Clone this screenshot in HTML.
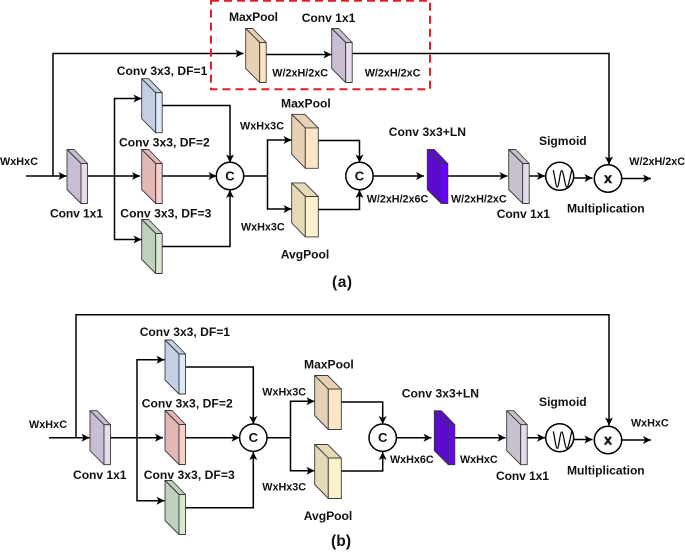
<!DOCTYPE html>
<html>
<head>
<meta charset="utf-8">
<style>
html,body{margin:0;padding:0;background:#fff;width:685px;height:552px;overflow:hidden}
svg{display:block;filter:blur(0.35px)}
text{font-family:"Liberation Sans",sans-serif;font-weight:bold;fill:#111}
.l{font-size:12.1px}
.s{font-size:10.8px}
.c{font-size:13px;text-anchor:middle}
.w{fill:none;stroke:#000;stroke-width:1.5}
.a{marker-end:url(#h)}
.o{fill:#fff;stroke:#000;stroke-width:1.5}
.si{fill:var(--a);stroke:#3a3a3a;stroke-width:.9;stroke-linejoin:round}
.fr{fill:var(--b);stroke:#3a3a3a;stroke-width:.9;stroke-linejoin:round}
</style>
</head>
<body>
<svg width="685" height="552" viewBox="0 0 685 552" xmlns="http://www.w3.org/2000/svg">
<defs>
<marker id="h" markerUnits="userSpaceOnUse" markerWidth="10" markerHeight="10" refX="8.5" refY="5" orient="auto" overflow="visible">
<path d="M0.5,1 L8.5,5 L0.5,9 L2.5,5 Z" fill="#000"/>
</marker>
<g id="n">
<polygon class="si" points="0,0 7,0 20.5,14 14,14"/>
<polygon class="si" points="0,0 14,14 14,54 0,40"/>
<polygon class="fr" points="14,14 20.5,14 20.5,54 14,54"/>
</g>
<g id="m">
<polygon class="si" points="0,0 13,0 26.6,13.6 13.6,13.6"/>
<polygon class="si" points="0,0 13.6,13.6 13.6,54 0,40"/>
<polygon class="fr" points="13.6,13.6 26.6,13.6 26.6,54 13.6,54"/>
</g>
</defs>

<!-- (a) connectors -->
<path class="w a" d="M26,176 H66.5"/>
<path class="w a" d="M53,176 V53.5 H243.5"/>
<path class="w a" d="M264.5,54.5 H331.5"/>
<path class="w a" d="M352,53.5 H609 V164.5"/>
<path class="w a" d="M87.5,176 H140"/>
<path class="w a" d="M114.5,176 V98.5 H141.5"/>
<path class="w a" d="M114.5,176 V239.5 H141.5"/>
<path class="w a" d="M162,105.5 H230 V162.5"/>
<path class="w a" d="M162,176 H216.5"/>
<path class="w a" d="M162,246.5 H230 V190"/>
<path class="w" d="M244,176 H267.5"/>
<path class="w a" d="M267.5,176 V140 H291.5"/>
<path class="w a" d="M267.5,176 V209 H291.5"/>
<path class="w a" d="M318,140.5 H359.5 V162.5"/>
<path class="w a" d="M318,209.5 H359.5 V190"/>
<path class="w a" d="M373.5,176 H424"/>
<path class="w a" d="M447,176 H507.5"/>
<path class="w a" d="M529,176 H545"/>
<path class="w a" d="M574,178 H592.5"/>
<path class="w a" d="M622,178.5 H651"/>

<!-- (a) dashed -->
<rect x="211" y="0.8" width="219" height="88.4" fill="none" stroke="#e01f2b" stroke-width="2" stroke-dasharray="8 5"/>

<!-- (a) blocks -->
<use href="#n" x="67" y="149.5" style="--a:#c9bdd3;--b:#e6dcee"/>
<use href="#n" x="141.7" y="78.7" style="--a:#c3d0e3;--b:#dce9f8"/>
<use href="#n" x="141.7" y="149.5" style="--a:#e2b8b5;--b:#f7cfcb"/>
<use href="#n" x="141.7" y="219.5" style="--a:#bfd0bc;--b:#d8e8d3"/>
<use href="#n" x="245.7" y="28.5" style="--a:#e8d0b5;--b:#fde5c8"/>
<use href="#n" x="331.7" y="28.5" style="--a:#c9bdd3;--b:#e6dcee"/>
<use href="#m" x="291.7" y="114.3" style="--a:#e8d0b5;--b:#fde5c8"/>
<use href="#m" x="291.7" y="182.9" style="--a:#e6d9b6;--b:#fdf1cb"/>
<use href="#n" x="427.3" y="149.5" style="--a:#5b0bd0;--b:#6a00ff"/>
<use href="#n" x="508.7" y="149.5" style="--a:#c9c0cf;--b:#e3dcea"/>

<!-- (a) circles -->
<circle class="o" cx="230" cy="176" r="13.7"/>
<text class="c" x="230" y="180.5">C</text>
<circle class="o" cx="359.5" cy="176" r="13.7"/>
<text class="c" x="359.5" y="180.5">C</text>
<circle class="o" cx="559.7" cy="176.3" r="14"/>
<path d="M553.3,170 C555,178 556,187 557.3,187 C559,187 560,170.5 561.7,170.5 C563.5,170.5 565,187 566.7,187 C568.5,187 570,178 571.7,170" fill="none" stroke="#000" stroke-width="1.2"/>
<circle class="o" cx="608" cy="178.5" r="13.7"/>
<text class="c" x="608" y="183" style="font-size:14px;stroke:#111;stroke-width:.5">x</text>

<!-- (a) labels -->
<text class="l" x="229" y="21" textLength="49">MaxPool</text>
<text class="l" x="301.7" y="22" textLength="53.6">Conv 1x1</text>
<text class="s" x="272.3" y="76.5" textLength="55.7">W/2xH/2xC</text>
<text class="s" x="364.7" y="76.5" textLength="55.7">W/2xH/2xC</text>
<text class="s" x="0" y="165" textLength="38">WxHxC</text>
<text class="l" x="116.7" y="75" textLength="90.6">Conv 3x3, DF=1</text>
<text class="l" x="119" y="146.3" textLength="90.7">Conv 3x3, DF=2</text>
<text class="l" x="50" y="217.7" textLength="53">Conv 1x1</text>
<text class="l" x="120.3" y="217.3" textLength="91">Conv 3x3, DF=3</text>
<text class="l" x="281" y="107.3" textLength="49.7">MaxPool</text>
<text class="s" x="240" y="129.3" textLength="44">WxHx3C</text>
<text class="s" x="241" y="230.7" textLength="43.7">WxHx3C</text>
<text class="l" x="280.7" y="258.3" textLength="48.6">AvgPool</text>
<text class="l" x="388.7" y="136" textLength="77.3">Conv 3x3+LN</text>
<text class="l" x="539" y="145" textLength="47.7">Sigmoid</text>
<text class="s" x="629.3" y="165" textLength="55.7">W/2xH/2xC</text>
<text class="s" x="366.7" y="202.3" textLength="61.6">W/2xH/2x6C</text>
<text class="s" x="451" y="202.3" textLength="55.7">W/2xH/2xC</text>
<text class="l" x="496.7" y="218" textLength="53.3">Conv 1x1</text>
<text class="l" x="567" y="212.7" textLength="77.7">Multiplication</text>
<text x="332" y="287" textLength="20" style="font-size:15.5px">(a)</text>

<!-- (b) connectors -->
<path class="w a" d="M49,437.7 H89.5"/>
<path class="w a" d="M76,437.7 V314.7 H609 V425.5"/>
<path class="w a" d="M110.5,437.7 H163"/>
<path class="w a" d="M137,437.7 V359.7 H164.5"/>
<path class="w a" d="M137,437.7 V500.7 H164.5"/>
<path class="w a" d="M185,367 H253.3 V424"/>
<path class="w a" d="M185,437.7 H239.5"/>
<path class="w a" d="M185,507.7 H253.3 V452"/>
<path class="w" d="M267,437.7 H290.5"/>
<path class="w a" d="M290.5,437.7 V401.3 H314.5"/>
<path class="w a" d="M290.5,437.7 V470.7 H314.5"/>
<path class="w a" d="M341,402 H382.7 V424"/>
<path class="w a" d="M341,471 H382.7 V452"/>
<path class="w a" d="M397,437.7 H431.5"/>
<path class="w a" d="M455,437.7 H505.5"/>
<path class="w a" d="M527,437.7 H545"/>
<path class="w a" d="M574,439.5 H592.5"/>
<path class="w a" d="M622,440 H651"/>

<!-- (b) blocks -->
<use href="#n" x="90" y="410.7" style="--a:#c9bdd3;--b:#e6dcee"/>
<use href="#n" x="165" y="340" style="--a:#c3d0e3;--b:#dce9f8"/>
<use href="#n" x="165" y="410.5" style="--a:#e2b8b5;--b:#f7cfcb"/>
<use href="#n" x="165" y="480.5" style="--a:#bfd0bc;--b:#d8e8d3"/>
<use href="#m" x="314.7" y="375.5" style="--a:#e8d0b5;--b:#fde5c8"/>
<use href="#m" x="314.7" y="444.5" style="--a:#e6d9b6;--b:#fdf1cb"/>
<use href="#n" x="434.3" y="410.7" style="--a:#5b0bd0;--b:#6a00ff"/>
<use href="#n" x="506.7" y="410.7" style="--a:#c9c0cf;--b:#e3dcea"/>

<!-- (b) circles -->
<circle class="o" cx="253.3" cy="437.7" r="13.7"/>
<text class="c" x="253.3" y="442.2">C</text>
<circle class="o" cx="382.7" cy="437.7" r="13.7"/>
<text class="c" x="382.7" y="442.2">C</text>
<circle class="o" cx="559.7" cy="437.7" r="14"/>
<path d="M553.3,431.4 C555,439.4 556,448.4 557.3,448.4 C559,448.4 560,431.9 561.7,431.9 C563.5,431.9 565,448.4 566.7,448.4 C568.5,448.4 570,439.4 571.7,431.4" fill="none" stroke="#000" stroke-width="1.2"/>
<circle class="o" cx="608" cy="440" r="13.7"/>
<text class="c" x="608" y="444.5" style="font-size:14px;stroke:#111;stroke-width:.5">x</text>

<!-- (b) labels -->
<text class="l" x="139.7" y="336" textLength="90.3">Conv 3x3, DF=1</text>
<text class="l" x="141.7" y="407.7" textLength="91">Conv 3x3, DF=2</text>
<text class="l" x="143.7" y="479" textLength="91">Conv 3x3, DF=3</text>
<text class="s" x="29" y="428" textLength="38">WxHxC</text>
<text class="l" x="73" y="479" textLength="53.5">Conv 1x1</text>
<text class="l" x="304" y="368.7" textLength="49.7">MaxPool</text>
<text class="s" x="262.3" y="395.3" textLength="43.7">WxHx3C</text>
<text class="s" x="262.3" y="490.3" textLength="43.7">WxHx3C</text>
<text class="l" x="303.7" y="520" textLength="48.6">AvgPool</text>
<text class="l" x="401.7" y="397.3" textLength="77.3">Conv 3x3+LN</text>
<text class="l" x="539" y="406" textLength="47.7">Sigmoid</text>
<text class="s" x="631" y="426.7" textLength="37.7">WxHxC</text>
<text class="s" x="390" y="463" textLength="43.7">WxHx6C</text>
<text class="s" x="460" y="463" textLength="37.7">WxHxC</text>
<text class="l" x="496" y="480" textLength="53">Conv 1x1</text>
<text class="l" x="567" y="474.3" textLength="77.7">Multiplication</text>
<text x="331" y="546" textLength="20" style="font-size:15.5px">(b)</text>
</svg>
</body>
</html>
